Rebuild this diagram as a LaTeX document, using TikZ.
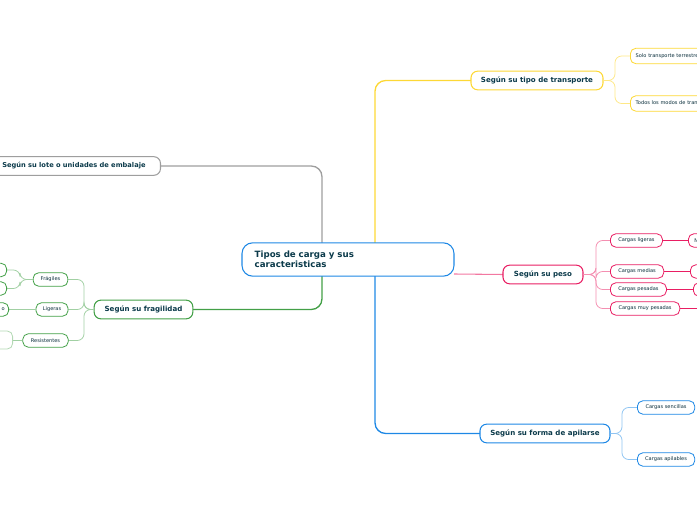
\documentclass[tikz,border=0pt]{standalone}
\usepackage{fontspec}
\setmainfont{DejaVu Sans}
\begin{document}
\begin{tikzpicture}[x=0.75pt,y=-0.75pt,
  box/.style={draw,rounded corners=5pt,line width=0.8pt,fill=white,inner sep=0pt,font=\fontsize{5.3}{6}\selectfont\bfseries,text=txt},
  sub/.style={draw,rounded corners=4pt,line width=0.6pt,fill=white,inner sep=0pt,font=\fontsize{3.8}{4.5}\selectfont,text=txt!80!black},
  lnk/.style={line width=1pt,rounded corners=8pt},
  slk/.style={line width=0.6pt,rounded corners=5pt}]
\definecolor{txt}{HTML}{0B3A4A}
\definecolor{cb}{HTML}{1E88E5}
\definecolor{cg}{HTML}{9E9E9E}
\definecolor{cgr}{HTML}{43A047}
\definecolor{cy}{HTML}{FDD835}
\definecolor{cp}{HTML}{E91E63}
\useasboundingbox (0,0) rectangle (697,520);
\clip (0,0) rectangle (697,520);
% connectors from centre
\draw[lnk,cg] (322,245) |- (161,166);
\draw[lnk,cgr] (322,274) |- (193,309.5);
\draw[lnk,cy] (375,245) |- (471,80.5);
\draw[lnk,cb] (375,274) |- (480,433.5);
\draw[line width=0.8pt,cp!60] (454,274) -- (503,274.5);
% centre
\node[box,draw=cb,minimum width=159pt,minimum height=25pt,rounded corners=8pt,font=\fontsize{6.5}{7.5}\selectfont\bfseries,align=left,text width=140pt] (c) at (348,259.5) {Tipos de carga y sus\\caracteristicas};
% main branches
\node[box,draw=cg,minimum width=150pt,minimum height=14pt,anchor=east] (lote) at (161,166) {};
\node[font=\fontsize{5}{6}\selectfont\bfseries,text=txt,anchor=west,inner sep=0pt] (lotet) at (2,166) {Según su lote o unidades de embalaje};
\node[box,draw=cgr,minimum width=74pt,minimum height=14pt] (fr) at (143.5,309.5) {Según su fragilidad};
\node[box,draw=cy,minimum width=99pt,minimum height=14pt] (tr) at (537,80.5) {Según su tipo de transporte};
\node[box,draw=cp,minimum width=60pt,minimum height=14pt] (pe) at (543,274.5) {Según su peso};
\node[box,draw=cb,minimum width=97.5pt,minimum height=14pt] (ap) at (545,433.5) {Según su forma de apilarse};
% fragilidad children
\foreach \n/\y in {fa/279.5,lg/309.5,rs/340.5}{\draw[slk,cgr!50] (fr.west) -- (84,309.5) |- (68,\y);}
\node[sub,draw=cgr,minimum width=26pt,minimum height=10pt] (fa) at (50.5,279.5) {Frágiles};
\node[sub,draw=cgr,minimum width=24pt,minimum height=10pt] (lg) at (52,309.5) {Ligeras};
\node[sub,draw=cgr,minimum width=34pt,minimum height=10pt] (rs) at (45.5,340.5) {Resistentes};
\draw[slk,cgr!50] (fa.west) -- (20,279.5) |- (7,270);
\draw[slk,cgr!50] (fa.west) -- (20,279.5) |- (7,288.5);
\draw[slk,cgr!50] (lg.west) -- (9,309.5);
\draw[slk,cgr!50] (rs.west) -- (13,340.5);
\node[sub,draw=cgr,minimum width=20pt,minimum height=10pt,anchor=east] (f1) at (7,270) {};
\node[sub,draw=cgr,minimum width=20pt,minimum height=10pt,anchor=east] (f2) at (7,288.5) {};
\node[sub,draw=cgr,minimum width=20pt,minimum height=10pt,anchor=east,font=\fontsize{3.8}{4.5}\selectfont] (l1) at (9,309.5) {\hspace*{12pt}o};
\node[sub,draw=cgr!40,minimum width=30pt,minimum height=13.5pt,anchor=east] (r1) at (13,340) {};
% transporte children
\draw[slk,cy!60] (tr.east) -- (615,80.5) |- (630,56);
\draw[slk,cy!60] (tr.east) -- (615,80.5) |- (630,103.5);
\node[sub,draw=cy,minimum width=70pt,minimum height=11.5pt,anchor=west,text width=66pt,align=left] (t1) at (630,56) {\hspace*{2pt}Solo transporte terrestre};
\node[sub,draw=cy,minimum width=80pt,minimum height=11.5pt,anchor=west,text width=76pt,align=left] (t2) at (630,103.5) {\hspace*{2pt}Todos los modos de transporte};
% peso children
\foreach \y in {240.5,271.5,289.5,308.5}{\draw[slk,cp!50] (pe.east) -- (596,274.5) |- (610,\y);}
\node[sub,draw=cp,minimum width=39pt,minimum height=10pt,anchor=west] (p1) at (610,240.5) {Cargas ligeras};
\node[sub,draw=cp,minimum width=40pt,minimum height=10pt,anchor=west] (p2) at (610,271.5) {Cargas medias};
\node[sub,draw=cp,minimum width=42pt,minimum height=10pt,anchor=west] (p3) at (610,289.5) {Cargas pesadas};
\node[sub,draw=cp,minimum width=52pt,minimum height=10pt,anchor=west] (p4) at (610,308.5) {Cargas muy pesadas};
\draw[slk,cp] (p1.east) -- (688,240.5);
\draw[slk,cp] (p2.east) -- (690,271.5);
\draw[slk,cp] (p3.east) -- (693,289.5);
\draw[slk,cp] (p4.east) -- (697,308.5);
\node[sub,draw=cp,minimum width=30pt,minimum height=10pt,anchor=west,text width=27pt,align=left] (q1) at (688,240.5) {\hspace*{3pt}N};
\node[sub,draw=cp,minimum width=30pt,minimum height=10pt,anchor=west] (q2) at (690,271.5) {};
\node[sub,draw=cp,minimum width=30pt,minimum height=10pt,anchor=west] (q3) at (693,289.5) {};
% apilarse children
\draw[slk,cb!50] (ap.east) -- (622,433.5) |- (637,407.5);
\draw[slk,cb!50] (ap.east) -- (622,433.5) |- (637,459.5);
\node[sub,draw=cb,minimum width=43pt,minimum height=10pt,anchor=west] (a1) at (637,407.5) {Cargas sencillas};
\node[sub,draw=cb,minimum width=43pt,minimum height=10pt,anchor=west] (a2) at (637,459.5) {Cargas apilables};
\end{tikzpicture}
\end{document}
